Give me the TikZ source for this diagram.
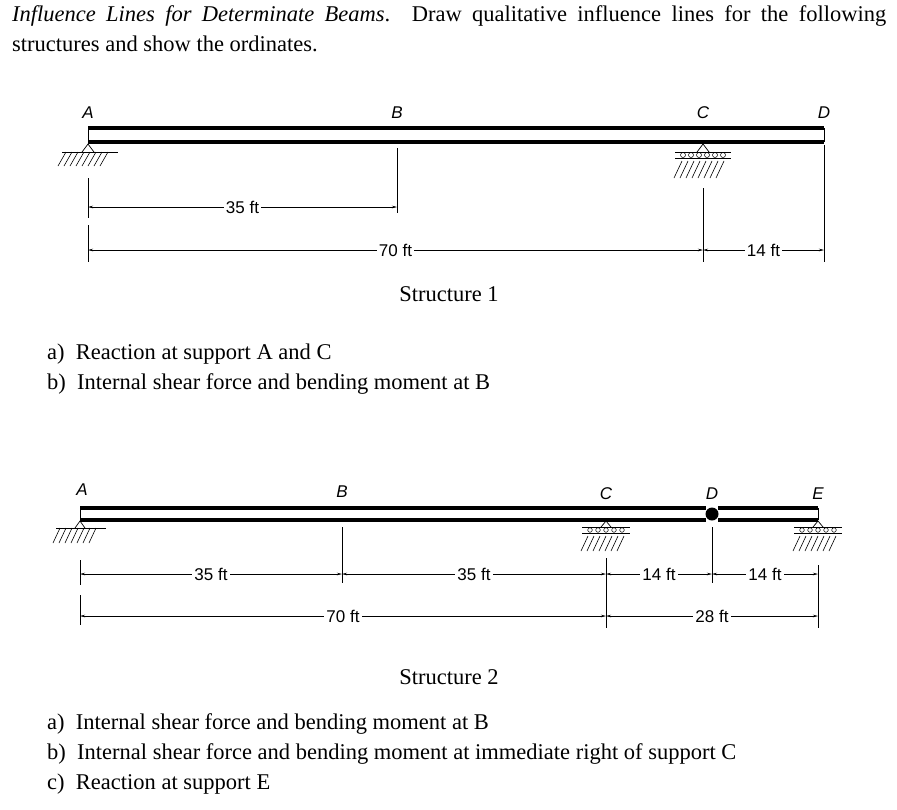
\documentclass[tikz,border=0pt]{standalone}
\usepackage{fontspec}
\setmainfont{Liberation Serif}
\newfontfamily\lab{Liberation Sans}
\usetikzlibrary{arrows.meta,patterns}
\begin{document}
\begin{tikzpicture}[x=1pt,y=-1pt,
 beamline/.style={line width=3.2pt},
 dimline/.style={line width=0.6pt,{Stealth[length=5pt,width=2.5pt]}-{Stealth[length=5pt,width=2.5pt]}},
 extl/.style={line width=0.7pt},
 ptlab/.style={font=\lab\itshape\fontsize{17}{17}\selectfont},
 dimlab/.style={font=\lab\fontsize{17}{17}\selectfont,fill=white,inner sep=2pt},
 body/.style={font=\fontsize{22.5}{30}\selectfont,anchor=west,inner sep=0}]
\useasboundingbox (0,0) rectangle (897,809);
% title
\node[body,anchor=north west,text width=874pt,align=justify] (title) at (12,5) {\textit{Influence Lines for Determinate Beams}. Draw qualitative influence lines for the following\linebreak structures and show the ordinates.};
% ---------- Structure 1
\draw[beamline] (88,128) -- (824,128);
\draw[beamline] (88,142) -- (824,142);
\draw[line width=1pt] (88,128) -- (88,142);
\draw[line width=1pt] (824,128) -- (824,142);
\node[ptlab] (A1) at (88,113) {A};
\node[ptlab] (B1) at (397,113) {B};
\node[ptlab] (C1) at (703,113) {C};
\node[ptlab] (D1) at (824,113) {D};
% pin A
\draw[line width=0.7pt] (82,152) -- (88,144) -- (94,152);
\draw[line width=0.8pt] (62,152) -- (118,152);
\foreach \i in {0,...,7} \draw[line width=0.6pt] (66+\i*6,152) -- (58+\i*6,166);
% roller C
\draw[line width=0.7pt] (697,152) -- (703,144) -- (709,152);
\draw[line width=0.8pt] (675,152) -- (731,152);
\foreach \i in {0,...,5} \draw[line width=0.5pt] (683+\i*8,155) circle (2.5);
\draw[line width=0.8pt] (675,158) -- (731,158);
\foreach \i in {0,...,7} \draw[line width=0.6pt] (682+\i*6,161) -- (674+\i*6,178);
% extension lines
\draw[extl] (88,178) -- (88,218);
\draw[extl] (88,225) -- (88,262);
\draw[extl] (397,148) -- (397,213);
\draw[extl] (703,188) -- (703,262);
\draw[extl] (824,145) -- (824,262);
\coordinate (a1) at (88,207); \coordinate (b1) at (397,207);
\coordinate (a2) at (88,250); \coordinate (c2) at (703,250); \coordinate (d2) at (824,250);
\draw[dimline] (a1) -- node[dimlab]{35 ft} (b1);
\draw[dimline] (a2) -- node[dimlab,pos=0.5]{70 ft} (c2);
\draw[dimline] (c2) -- node[dimlab]{14 ft} (d2);
\node[font=\fontsize{22.5}{24}\selectfont] (s1) at (449,294) {Structure 1};
\node[body] (q1) at (47,354) {a)\ \ Reaction at support A and C};
\node[body] (q2) at (47,384) {b)\ \ Internal shear force and bending moment at B};
% ---------- Structure 2
\draw[beamline] (80,508) -- (706,508);
\draw[beamline] (80,520) -- (706,520);
\draw[beamline] (718,508) -- (818,508);
\draw[beamline] (718,520) -- (818,520);
\draw[line width=1pt] (80,508) -- (80,520);
\draw[line width=1pt] (818,508) -- (818,520);
\fill (712,514) circle (6.5);
\node[ptlab] (A2) at (82,490) {A};
\node[ptlab] (B2) at (342,492) {B};
\node[ptlab] (C2) at (606,494) {C};
\node[ptlab] (D2) at (712,494) {D};
\node[ptlab] (E2) at (818,494) {E};
% pin A
\draw[line width=0.7pt] (75,528) -- (80,521) -- (85,528);
\draw[line width=0.8pt] (56,528) -- (106,528);
\foreach \i in {0,...,6} \draw[line width=0.6pt] (60+\i*6,528) -- (53+\i*6,543);
% rollers C and E
\foreach \xx in {606,818}{
 \draw[line width=0.7pt] (\xx-5,527) -- (\xx,521) -- (\xx+5,527);
 \draw[line width=0.8pt] (\xx-24,527) -- (\xx+24,527);
 \foreach \i in {0,...,4} \draw[line width=0.5pt] (\xx-16+\i*8,530) circle (2.3);
 \draw[line width=0.8pt] (\xx-24,533) -- (\xx+24,533);
 \foreach \i in {0,...,6} \draw[line width=0.6pt] (\xx-18+\i*6,536) -- (\xx-25+\i*6,551);
}
% extension lines
\draw[extl] (80,560) -- (80,585);
\draw[extl] (80,595) -- (80,625);
\draw[extl] (342,527) -- (342,583);
\draw[extl] (606,558) -- (606,628);
\draw[extl] (712,527) -- (712,583);
\draw[extl] (818,565) -- (818,628);
\coordinate (p1) at (80,574); \coordinate (p2) at (342,574); \coordinate (p3) at (606,574);
\coordinate (p4) at (712,574); \coordinate (p5) at (818,574);
\coordinate (q1a) at (80,616); \coordinate (q3) at (606,616); \coordinate (q5) at (818,616);
\draw[dimline] (p1) -- node[dimlab,pos=0.5]{35 ft} (p2);
\draw[dimline] (p2) -- node[dimlab]{35 ft} (p3);
\draw[dimline] (p3) -- node[dimlab]{14 ft} (p4);
\draw[dimline] (p4) -- node[dimlab]{14 ft} (p5);
\draw[dimline] (q1a) -- node[dimlab]{70 ft} (q3);
\draw[dimline] (q3) -- node[dimlab]{28 ft} (q5);
\node[font=\fontsize{22.5}{24}\selectfont] (s2) at (449,677) {Structure 2};
\node[body] (r1) at (47,724) {a)\ \ Internal shear force and bending moment at B};
\node[body] (r2) at (47,754) {b)\ \ Internal shear force and bending moment at immediate right of support C};
\node[body] (r3) at (47,784) {c)\ \ Reaction at support E};
\end{tikzpicture}
\end{document}
